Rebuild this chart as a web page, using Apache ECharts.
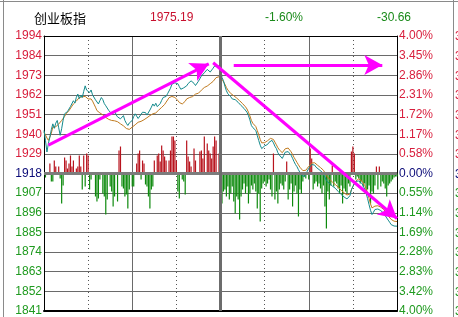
<!DOCTYPE html>
<html><head><meta charset="utf-8">
<script src="https://cdn.jsdelivr.net/npm/echarts@6/dist/echarts.min.js"></script>
<style>html,body{margin:0;padding:0;background:#fff;overflow:hidden}#c{width:458px;height:317px}</style>
</head><body><div id="c"></div>
<script>
const titleName = '创业板指';
const lastPrice = '1975.19';
const changePct = '-1.60%';
const changeVal = '-30.66';
const prevClose = 1918;
const stepPts = 10.96;
// tick labels, bottom to top
const leftTicks = ['1841','1852','1863','1874','1885','1896','1907','1918','1929','1940','1951','1962','1973','1984','1994'];
const rightTicks = ['4.00%','3.42%','2.83%','2.28%','1.69%','1.14%','0.55%','0.00%','0.58%','1.17%','1.72%','2.31%','2.86%','3.45%','4.00%'];

const priceLine = [
1942.0,1936.5,1930.0,1934.8,1938.3,1942.5,1945.7,1943.2,1946.1,1947.6,
1943.5,1939.3,1943.0,1947.8,1951.3,1950.2,1952.6,1953.1,1955.4,1956.0,
1958.6,1957.3,1960.5,1962.3,1959.8,1961.7,1960.4,1963.8,1966.9,1964.5,
1965.3,1963.2,1964.6,1961.9,1962.3,1959.1,1958.3,1956.8,1958.7,1960.4,
1959.2,1957.0,1955.8,1954.9,1953.2,1952.6,1951.3,1952.4,1953.1,1950.8,
1949.6,1950.2,1948.5,1949.1,1950.3,1947.6,1946.0,1944.8,1946.2,1945.8,
1947.6,1949.8,1951.3,1950.4,1948.7,1949.4,1951.0,1952.2,1953.1,1952.0,
1950.6,1951.3,1953.4,1955.0,1956.8,1955.6,1957.2,1955.3,1954.9,1957.0,
1958.8,1960.4,1959.3,1961.0,1962.5,1963.2,1965.6,1967.9,1966.8,1968.6,
1969.7,1968.1,1966.5,1965.0,1964.2,1965.8,1966.1,1966.9,1968.2,1967.5,
1969.7,1968.8,1968.3,1967.1,1967.9,1969.5,1970.6,1972.4,1973.5,1974.2,
1973.8,1976.1,1975.0,1974.6,1975.2,1976.8,1978.0,1978.9,1977.6,1978.3,
1978.9,1971.5,1969.8,1966.7,1964.2,1962.5,1961.4,1960.8,1959.6,1960.1,
1959.2,1958.6,1957.7,1957.0,1955.9,1955.1,1954.3,1953.4,1952.2,1950.3,
1947.9,1944.8,1943.6,1943.1,1942.0,1939.2,1936.4,1933.8,1931.9,1932.6,
1933.4,1932.8,1934.2,1935.4,1935.9,1936.5,1935.1,1933.2,1931.9,1929.6,
1928.3,1927.4,1926.4,1928.1,1929.9,1931.0,1930.2,1929.5,1928.2,1926.5,
1924.6,1923.0,1921.8,1920.1,1918.6,1917.2,1916.9,1916.2,1917.5,1919.3,
1920.9,1921.8,1923.0,1923.6,1922.7,1921.5,1920.9,1920.2,1919.6,1918.8,
1918.1,1916.0,1913.9,1913.2,1912.5,1911.8,1911.0,1910.5,1909.8,1909.1,
1908.0,1907.1,1906.3,1905.5,1904.9,1904.3,1903.8,1903.4,1905.6,1908.9,
1910.7,1912.3,1913.6,1914.4,1913.8,1913.1,1912.6,1911.2,1909.3,1907.1,
1904.0,1900.6,1897.5,1895.1,1896.4,1897.9,1898.8,1898.2,1897.6,1897.3,
1896.9,1895.8,1894.5,1893.2,1892.0,1890.8,1889.5,1889.0,1888.7,1888.9,
1888.6];

const avgLine = [
1941.1,1939.5,1937.8,1936.5,1938.4,1940.6,1943.9,1943.2,1944.1,1944.8,
1945.6,1946.4,1947.6,1948.5,1949.8,1951.3,1952.0,1953.1,1954.2,1955.6,
1956.8,1957.5,1958.4,1959.2,1960.4,1960.1,1960.8,1961.4,1961.0,1960.2,
1959.6,1959.9,1959.6,1958.4,1956.7,1955.0,1953.1,1952.5,1951.8,1951.3,
1950.7,1949.9,1949.3,1948.5,1948.2,1947.9,1947.6,1947.8,1947.4,1947.6,
1946.9,1946.2,1945.7,1945.1,1944.6,1943.9,1943.1,1942.0,1942.6,1943.3,
1943.9,1944.6,1945.2,1946.0,1946.6,1946.4,1947.1,1947.6,1948.0,1948.4,
1949.1,1949.6,1950.3,1950.9,1951.3,1951.1,1951.8,1952.6,1953.4,1954.1,
1954.9,1955.6,1956.5,1957.8,1959.0,1960.3,1961.4,1961.0,1960.8,1960.4,
1960.0,1958.8,1957.6,1956.8,1956.8,1957.5,1958.3,1959.6,1959.8,1960.4,
1960.4,1960.9,1961.4,1962.3,1962.0,1962.8,1963.6,1964.5,1965.2,1966.0,
1966.0,1966.8,1967.4,1968.1,1968.7,1969.4,1970.3,1971.5,1972.4,1972.0,
1971.4,1970.6,1969.5,1967.8,1966.0,1964.6,1963.5,1962.6,1961.9,1961.4,
1960.8,1960.1,1959.4,1958.6,1957.8,1957.0,1956.1,1955.2,1954.0,1952.2,
1950.1,1947.6,1946.0,1945.0,1944.2,1942.0,1939.6,1937.0,1935.1,1934.8,
1935.2,1935.6,1936.3,1937.1,1937.6,1937.9,1937.0,1935.5,1934.0,1932.4,
1931.2,1930.2,1929.6,1930.5,1931.8,1932.7,1932.2,1931.4,1930.1,1928.6,
1927.0,1925.6,1924.2,1922.8,1921.5,1920.4,1919.6,1919.2,1919.8,1920.9,
1922.0,1922.9,1923.8,1924.3,1924.0,1923.3,1922.6,1922.0,1921.3,1920.6,
1919.8,1918.4,1916.8,1915.7,1914.9,1914.1,1913.3,1912.6,1911.9,1911.2,
1910.4,1909.5,1908.7,1907.9,1907.2,1906.6,1906.0,1905.6,1906.6,1908.9,
1910.8,1912.4,1913.8,1914.7,1915.0,1914.6,1914.0,1913.0,1911.4,1909.6,
1907.2,1904.1,1901.0,1898.8,1899.0,1899.8,1900.4,1900.0,1899.5,1899.2,
1898.8,1897.9,1896.8,1895.6,1894.4,1893.3,1892.4,1891.8,1891.4,1891.3,
1891.2];

// red (positive) / green (negative) strength bars
const flowBars = [
0,-4,0,0,10,-8,-8,13,7,0,
7,-5,-30,-12,16,13,5,10,18,7,
13,0,5,7,18,7,-16,18,-13,20,
18,-16,-6,0,0,-23,-28,-25,-6,0,
-20,-23,-41,-26,0,-13,-18,-33,-23,0,
-28,23,27,-13,-15,-23,-21,-35,-16,0,
-13,-13,0,10,20,23,-6,13,10,-11,
-13,-23,-35,-16,-13,13,0,18,20,12,
28,23,17,13,0,13,23,37,37,33,
13,-18,-25,0,-6,-8,-21,33,17,12,
7,0,25,13,0,0,22,23,15,37,
0,30,23,20,15,27,37,33,0,20,
0,-30,-18,-16,-23,-13,-26,-20,-13,-28,
-40,-23,-26,-46,-23,-16,-10,-20,-13,-30,
-20,-12,-16,-10,-18,-35,-20,-48,-15,-10,
-8,-13,-10,-6,-16,-23,20,-26,-18,-30,
-16,-10,-12,-16,-8,12,-26,-16,-10,-33,
-18,-12,-20,-43,-16,-20,-8,-3,-5,0,
-6,25,15,-16,-10,-8,-13,-10,-15,-20,
-12,-33,-55,-18,-26,-12,8,-13,-8,-10,
-15,-20,-12,-30,-15,-18,-20,-10,-13,22,
27,20,-6,-3,-5,-10,-8,-13,-10,-20,
-16,-12,-30,-18,-20,-12,7,-16,7,-13,
-8,-10,-15,-23,-12,-10,-8,-6,-4,-3,
-3];

// annotation arrows: [startMinute, startPrice, endMinute, endPrice]
const arrows = [[3,1933.8,112,1979.2],[115,1979.8,240,1892.9],[129,1978.5,230,1978.5]];

// minute categories 09:30..11:30, 13:01..15:00
const categories = [];
function hm(h,m){return (h<10?'0':'')+h+':'+(m<10?'0':'')+m;}
for (let t = 9*60+30; t <= 11*60+30; t++) categories.push(hm(Math.floor(t/60), t%60));
for (let t = 13*60+1; t <= 15*60; t++) categories.push(hm(Math.floor(t/60), t%60));

const RED = '#d81e3c', GREEN = '#1f9a1f', NAVY = '#0c0c78';
function tickColor(v){ const i = Math.round(v)+7; return i>7?RED:(i<7?GREEN:NAVY); }
const labelFont = 'Liberation Sans, Arial, sans-serif';

const chart = echarts.init(document.getElementById('c'), null, {renderer:'canvas'});
const graphics = [
  {type:'line', shape:{x1:3.5,y1:0,x2:3.5,y2:317}, style:{stroke:'#8a8a8a',lineWidth:1}, silent:true},
  {type:'line', shape:{x1:0,y1:1.5,x2:458,y2:1.5}, style:{stroke:'#8a8a8a',lineWidth:1}, silent:true},
  {type:'line', shape:{x1:453.5,y1:0,x2:453.5,y2:317}, style:{stroke:'#8a8a8a',lineWidth:1}, silent:true},
  {type:'text', x:34, y:18, style:{text:titleName, fill:'#000', font:'13px "Noto Sans CJK SC", sans-serif', textVerticalAlign:'middle'}},
  {type:'text', x:150, y:18, style:{text:lastPrice, fill:'#c8102e', font:'12px '+labelFont, textVerticalAlign:'middle'}},
  {type:'text', x:265, y:18, style:{text:changePct, fill:'#1a8a1a', font:'12px '+labelFont, textVerticalAlign:'middle'}},
  {type:'text', x:377, y:18, style:{text:changeVal, fill:'#1a8a1a', font:'12px '+labelFont, textVerticalAlign:'middle'}}
];
for (let k = 0; k < leftTicks.length; k++) {
  graphics.push({type:'text', x:455, y:311 - k*275/14 + 1, style:{text:'3', fill:tickColor(k-7), font:'12px '+labelFont, textVerticalAlign:'middle'}});
}

chart.setOption({
  animation:false,
  backgroundColor:'#fff',
  graphic: graphics,
  grid:{left:44, top:36, right:61, bottom:6, containLabel:false},
  xAxis:[
    {type:'category', data:categories, boundaryGap:false, position:'bottom',
     axisLine:{show:true, onZero:false, lineStyle:{color:'#000', width:2}},
     axisTick:{show:false}, axisLabel:{show:false},
     splitLine:{show:true, interval:function(i){return i%60===30;}, lineStyle:{color:'#555', width:1, type:[1,3]}}},
    {type:'category', data:categories, boundaryGap:false, position:'top',
     axisLine:{show:true, onZero:false, lineStyle:{color:'#000', width:1}},
     axisTick:{show:false}, axisLabel:{show:false},
     splitLine:{show:true, interval:function(i){return i===60||i===180;}, lineStyle:{color:'#6a6a6a', width:1}}}
  ],
  yAxis:[
    {type:'value', min:-7, max:7, interval:1, position:'left',
     axisLine:{show:true, onZero:false, lineStyle:{color:'#000', width:1}}, axisTick:{show:false},
     axisLabel:{margin:2, fontSize:12, fontFamily:labelFont, formatter:function(v){return leftTicks[Math.round(v)+7];}, color:function(v){return tickColor(v);}},
     splitLine:{show:true, lineStyle:{color:'#6a6a6a', width:1}}},
    {type:'value', min:-7, max:7, interval:1, position:'right',
     axisLine:{show:true, onZero:false, lineStyle:{color:'#000', width:1}}, axisTick:{show:false},
     axisLabel:{margin:2, fontSize:12, fontFamily:labelFont, formatter:function(v){return rightTicks[Math.round(v)+7];}, color:function(v){return tickColor(v);}},
     splitLine:{show:false}},
    {type:'value', show:false, min:prevClose-7*stepPts, max:prevClose+7*stepPts, splitLine:{show:false}},
    {type:'value', show:false, min:-137.5, max:137.5, splitLine:{show:false}}
  ],
  series:[
    {type:'bar', xAxisIndex:0, yAxisIndex:3, data:flowBars, barWidth:1.2, silent:true,
     itemStyle:{color:function(p){return p.value>=0?'#b8141e':'#0e8a0e';}},
     markLine:{silent:true, symbol:['none','none'], label:{show:false},
       data:[
         {yAxis:0, lineStyle:{color:'#7c7c7c', width:3, type:'solid'}},
         {xAxis:categories[120], lineStyle:{color:'#6c6c6c', width:3, type:'solid'}}
       ]}},
    {type:'line', name:'avg', xAxisIndex:0, yAxisIndex:2, data:avgLine, showSymbol:false, silent:true,
     lineStyle:{color:'#c07a1e', width:1}},
    {type:'line', name:'price', xAxisIndex:0, yAxisIndex:2, data:priceLine, showSymbol:false, silent:true,
     lineStyle:{color:'#138a8c', width:1},
     markLine:{silent:true, symbol:['none','arrow'], symbolSize:[15,18], label:{show:false},
       lineStyle:{color:'#ff00ff', width:3, type:'solid'},
       data: arrows.map(function(a){return [{coord:[categories[a[0]], a[1]]},{coord:[categories[a[2]], a[3]]}];})}}
  ]
});
</script>
</body></html>
